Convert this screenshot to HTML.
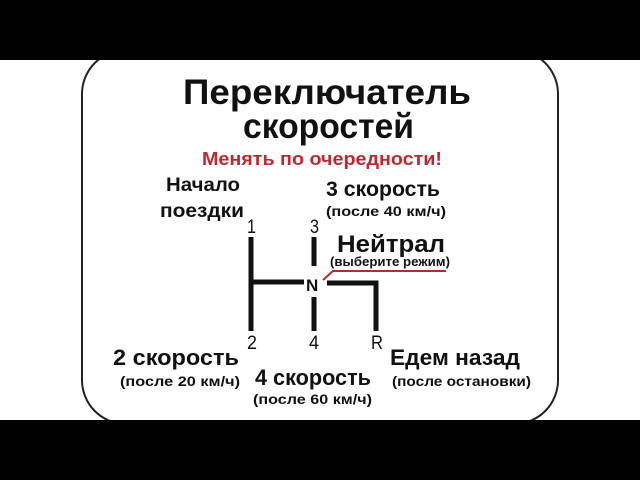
<!DOCTYPE html>
<html><head><meta charset="utf-8"><style>
html,body{margin:0;padding:0;background:#fff;}
svg{display:block;}
text{font-family:"Liberation Sans","DejaVu Sans",sans-serif;font-weight:bold;fill:#111;}
</style></head><body>
<svg width="640" height="480" viewBox="0 0 640 480" xmlns="http://www.w3.org/2000/svg">
<rect x="0" y="0" width="640" height="480" fill="#fff"/>
<rect x="82" y="50" width="476" height="374" rx="44" ry="44" fill="none" stroke="#222" stroke-width="2"/>
<rect x="0" y="0" width="640" height="60" fill="#000"/>
<rect x="0" y="420" width="640" height="60" fill="#000"/>

<text x="183" y="104" font-size="35" textLength="288" lengthAdjust="spacingAndGlyphs">Переключатель</text>
<text x="243" y="138" font-size="35" textLength="171" lengthAdjust="spacingAndGlyphs">скоростей</text>
<text x="202" y="165" font-size="18" style="fill:#c0282e" textLength="240" lengthAdjust="spacingAndGlyphs">Менять по очередности!</text>

<text x="166" y="191" font-size="19" textLength="74" lengthAdjust="spacingAndGlyphs">Начало</text>
<text x="160" y="217" font-size="19" textLength="84" lengthAdjust="spacingAndGlyphs">поездки</text>
<text x="326" y="196" font-size="21" textLength="114" lengthAdjust="spacingAndGlyphs">3 скорость</text>
<text x="326" y="216" font-size="14" textLength="120" lengthAdjust="spacingAndGlyphs">(после 40 км/ч)</text>

<text x="337" y="252" font-size="24" textLength="108" lengthAdjust="spacingAndGlyphs">Нейтрал</text>
<text x="330" y="266" font-size="13" textLength="120" lengthAdjust="spacingAndGlyphs">(выберите режим)</text>
<polyline points="323,280 333,271 446,271" fill="none" stroke="#b8282c" stroke-width="2"/>

<text x="247" y="233" font-size="19" style="font-weight:normal" textLength="9" lengthAdjust="spacingAndGlyphs">1</text>
<text x="310" y="233" font-size="19" style="font-weight:normal" textLength="9" lengthAdjust="spacingAndGlyphs">3</text>
<text x="247" y="349" font-size="19" style="font-weight:normal" textLength="10" lengthAdjust="spacingAndGlyphs">2</text>
<text x="309" y="349" font-size="19" style="font-weight:normal" textLength="10" lengthAdjust="spacingAndGlyphs">4</text>
<text x="371" y="349" font-size="19" style="font-weight:normal" textLength="12" lengthAdjust="spacingAndGlyphs">R</text>

<g stroke="#111" stroke-width="5" fill="none">
<line x1="251" y1="237" x2="251" y2="331"/>
<line x1="251" y1="282" x2="304" y2="282"/>
<line x1="314" y1="237" x2="314" y2="266"/>
<line x1="314" y1="297" x2="314" y2="331"/>
<polyline points="327,283 376,283 376,331"/>
</g>
<text x="306" y="291" font-size="17">N</text>

<text x="113" y="365" font-size="22" textLength="126" lengthAdjust="spacingAndGlyphs">2 скорость</text>
<text x="120" y="386" font-size="14" textLength="120" lengthAdjust="spacingAndGlyphs">(после 20 км/ч)</text>
<text x="255" y="385" font-size="22" textLength="116" lengthAdjust="spacingAndGlyphs">4 скорость</text>
<text x="253" y="404" font-size="14" textLength="119" lengthAdjust="spacingAndGlyphs">(после 60 км/ч)</text>
<text x="390" y="365" font-size="22" textLength="130" lengthAdjust="spacingAndGlyphs">Едем назад</text>
<text x="392" y="386" font-size="14" textLength="139" lengthAdjust="spacingAndGlyphs">(после остановки)</text>
</svg>
</body></html>
